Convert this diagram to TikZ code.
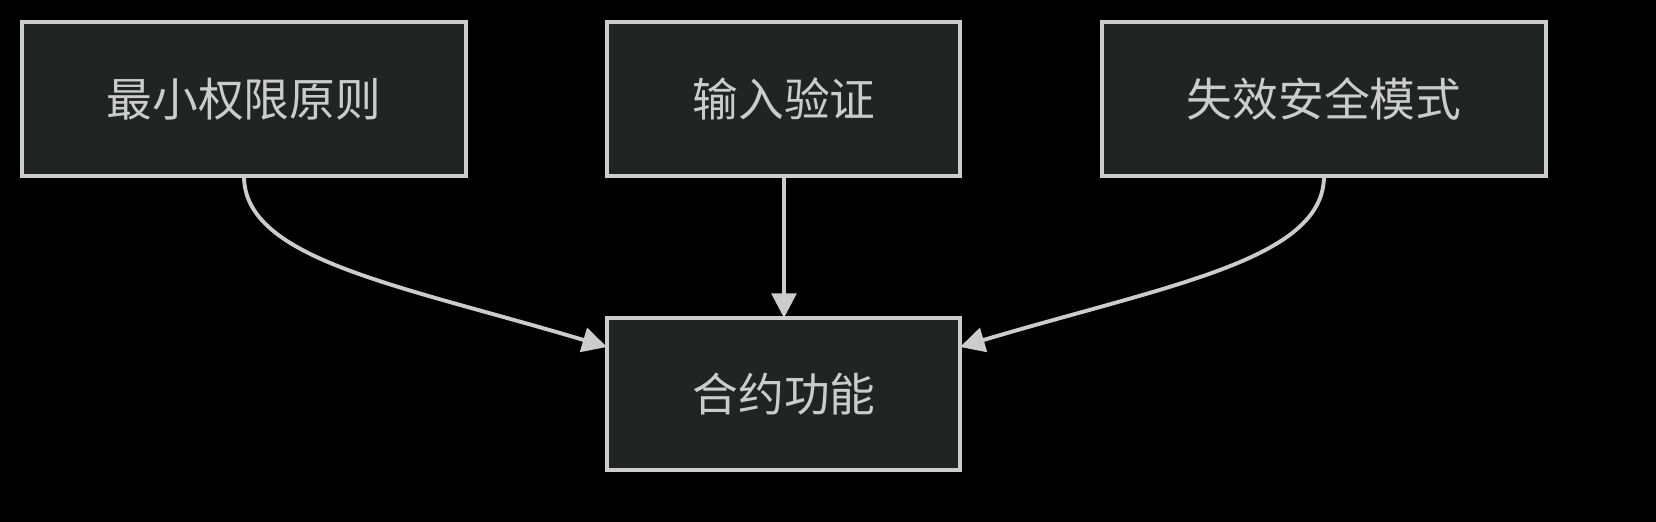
\documentclass[tikz,border=0pt]{standalone}
\usepackage{fontspec}
\newfontfamily\cjk{Noto Sans CJK SC}
\usetikzlibrary{arrows.meta}
\definecolor{bx}{HTML}{222424}
\definecolor{ln}{HTML}{CCCCCC}
\begin{document}
\begin{tikzpicture}[x=0.01cm,y=-0.01cm,
  box/.style={draw=ln,fill=bx,line width=1.2pt},
  lbl/.style={text=ln,font=\cjk\fontsize{13pt}{15pt}\selectfont},
  conn/.style={draw=ln,line width=1.1pt,-{Triangle[length=7pt,width=7pt]}}]
\useasboundingbox (0,0) rectangle (1656,522);
\fill[black] (0,0) rectangle (1656,522);
\path[box] (22,22) rectangle (466,176);
\node[lbl] (a) at (244,99) {最小权限原则};
\path[box] (607,22) rectangle (960,176);
\node[lbl] (b) at (784,99) {输入验证};
\path[box] (1102,22) rectangle (1546,176);
\node[lbl] (c) at (1324,99) {失效安全模式};
\path[box] (607,318) rectangle (960,470);
\node[lbl] (d) at (784,394) {合约功能};
\coordinate (as) at (244,176);
\coordinate (bs) at (784,176);
\coordinate (cs) at (1324,176);
\coordinate (dl) at (607,347);
\coordinate (dt) at (784,318);
\coordinate (dr) at (960,347);
\draw[conn] (as) .. controls (244,260) and (400,285) .. (dl);
\draw[conn] (bs) -- (dt);
\draw[conn] (cs) .. controls (1324,260) and (1168,285) .. (dr);
\end{tikzpicture}
\end{document}
